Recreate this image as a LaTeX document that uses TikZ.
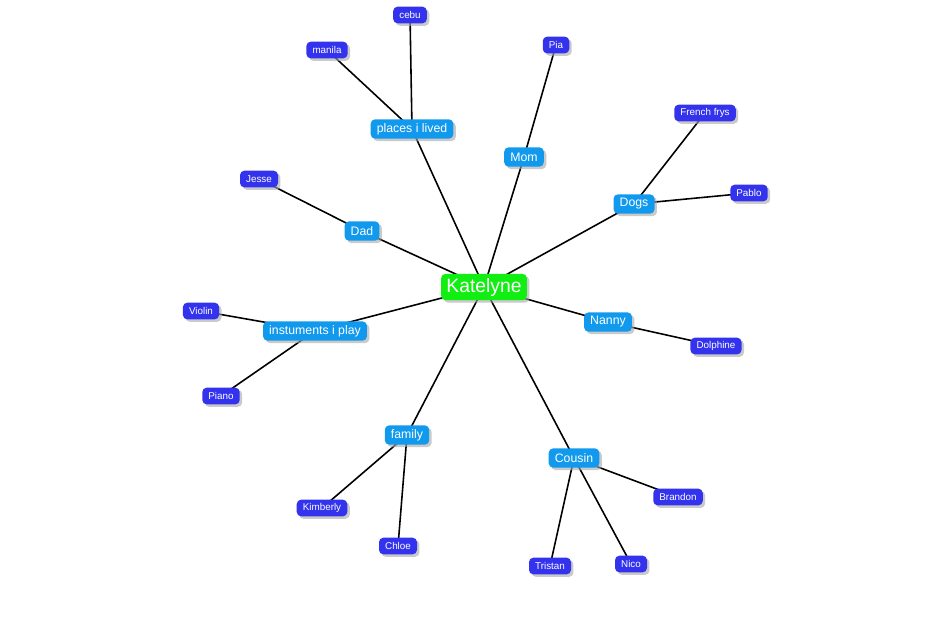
\documentclass[tikz,border=0pt]{standalone}
\usepackage{fontspec}
\setmainfont{Liberation Sans}
\usetikzlibrary{shadows}
\definecolor{rootc}{HTML}{11EE11}
\definecolor{midc}{HTML}{1199EE}
\definecolor{leafc}{HTML}{3333EE}
\tikzset{
 base/.style={text=white,inner sep=2pt,rounded corners=2.5pt,drop shadow={shadow xshift=1.4pt,shadow yshift=-1.4pt,fill=black!35,opacity=0.6}},
 rootn/.style={base,fill=rootc,font=\fontsize{11}{12}\selectfont,inner xsep=3pt,minimum height=15pt},
 midn/.style={base,fill=midc,font=\fontsize{7}{8}\selectfont,inner xsep=3.5pt,minimum height=11pt},
 leafn/.style={base,fill=leafc,font=\fontsize{5.6}{6}\selectfont,inner xsep=3.5pt,minimum height=9.5pt},
 link/.style={line width=0.9pt}
}
\begin{document}
\begin{tikzpicture}[x=0.02cm,y=-0.02cm]
\useasboundingbox (0,0) rectangle (945,620);
\coordinate (k) at (484,287);
\foreach \n/\x/\y in {pl/412/129,mom/524/157,dogs/634/204,dad/362/231,ins/315/331,nan/608/322,fam/407/435,cou/574/458,
 cebu/410/15,man/327/50,pia/556/45,ff/705/113,pab/749/193,jes/259/179,vio/201/311,pia2/221/396,dol/716/346,kim/322/508,chl/398/546,bra/678/497,tri/550/566,nic/631/564}
 \coordinate (c\n) at (\x,\y);
\foreach \a/\b in {k/cpl,k/cmom,k/cdogs,k/cdad,k/cins,k/cnan,k/cfam,k/ccou,cpl/ccebu,cpl/cman,cmom/cpia,cdogs/cff,cdogs/cpab,cdad/cjes,cins/cvio,cins/cpia2,cnan/cdol,cfam/ckim,cfam/cchl,ccou/cbra,ccou/ctri,ccou/cnic}
 \draw[link] (\a) -- (\b);
\node[rootn] (root) at (k) {Katelyne};
\node[midn] (pl) at (cpl) {places i lived};
\node[midn] (mom) at (cmom) {Mom};
\node[midn] (dogs) at (cdogs) {Dogs};
\node[midn] (dad) at (cdad) {Dad};
\node[midn] (ins) at (cins) {instuments i play};
\node[midn] (nan) at (cnan) {Nanny};
\node[midn] (fam) at (cfam) {family};
\node[midn] (cou) at (ccou) {Cousin};
\node[leafn] (cebu) at (ccebu) {cebu};
\node[leafn] (man) at (cman) {manila};
\node[leafn] (pia) at (cpia) {Pia};
\node[leafn] (ff) at (cff) {French frys};
\node[leafn] (pab) at (cpab) {Pablo};
\node[leafn] (jes) at (cjes) {Jesse};
\node[leafn] (vio) at (cvio) {Violin};
\node[leafn] (pia2) at (cpia2) {Piano};
\node[leafn] (dol) at (cdol) {Dolphine};
\node[leafn] (kim) at (ckim) {Kimberly};
\node[leafn] (chl) at (cchl) {Chloe};
\node[leafn] (bra) at (cbra) {Brandon};
\node[leafn] (tri) at (ctri) {Tristan};
\node[leafn] (nic) at (cnic) {Nico};
\end{tikzpicture}
\end{document}
